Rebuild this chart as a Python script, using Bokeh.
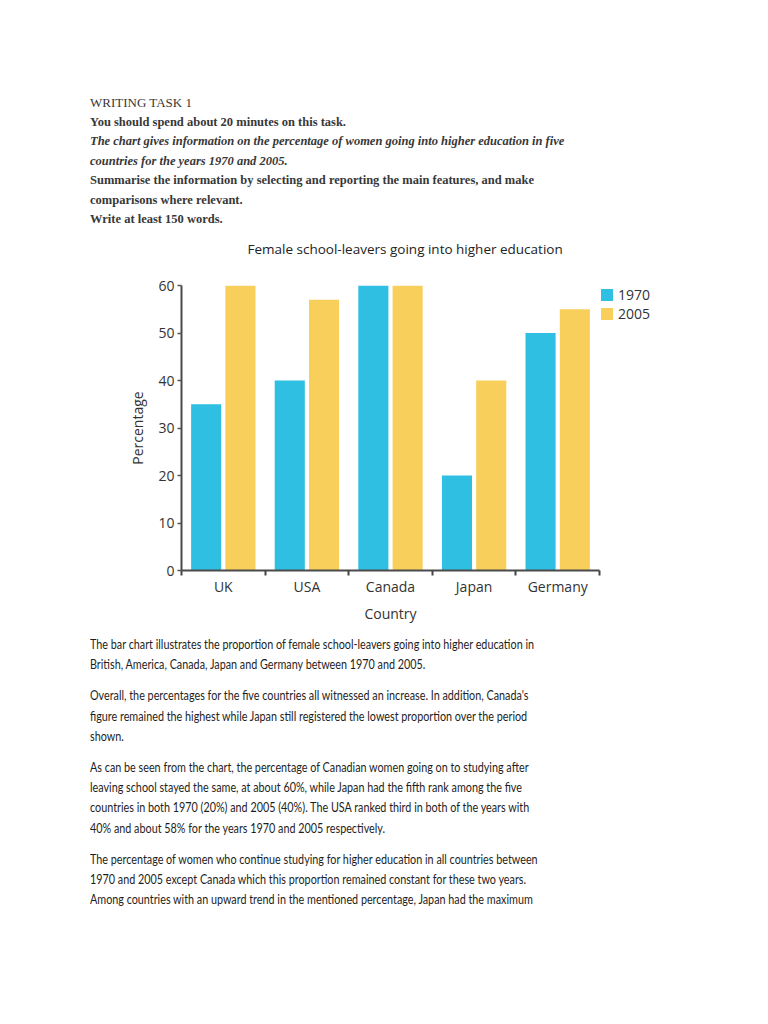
from bokeh.plotting import figure
from bokeh.models import (Range1d, FixedTicker, Legend, LegendItem, Div, ColumnDataSource, Title)
from bokeh.layouts import column
from bokeh.embed import file_html
from bokeh.resources import INLINE
import numpy as np

# ---- data ----
countries = ["UK", "USA", "Canada", "Japan", "Germany"]
values_1970 = [35, 40, 60, 20, 50]
values_2005 = [60, 57, 60, 40, 55]
years = ["1970", "2005"]
y_ticks = [0, 10, 20, 30, 40, 50, 60]

chart_title = "Female school-leavers going into higher education"
x_label = "Country"
y_label = "Percentage"

task_lines = [
    ("WRITING TASK 1", "normal"),
    ("You should spend about 20 minutes on this task.", "bold"),
    ("The chart gives information on the percentage of women going into higher education in five", "italic"),
    ("countries for the years 1970 and 2005.", "italic"),
    ("Summarise the information by selecting and reporting the main features, and make", "bold"),
    ("comparisons where relevant.", "bold"),
    ("Write at least 150 words.", "bold"),
]

essay_paragraphs = [
    ["The bar chart illustrates the proportion of female school-leavers going into higher education in",
     "British, America, Canada, Japan and Germany between 1970 and 2005."],
    ["Overall, the percentages for the five countries all witnessed an increase. In addition, Canada's",
     "figure remained the highest while Japan still registered the lowest proportion over the period",
     "shown."],
    ["As can be seen from the chart, the percentage of Canadian women going on to studying after",
     "leaving school stayed the same, at about 60%, while Japan had the fifth rank among the five",
     "countries in both 1970 (20%) and 2005 (40%). The USA ranked third in both of the years with",
     "40% and about 58% for the years 1970 and 2005 respectively."],
    ["The percentage of women who continue studying for higher education in all countries between",
     "1970 and 2005 except Canada which this proportion remained constant for these two years.",
     "Among countries with an upward trend in the mentioned percentage, Japan had the maximum"],
]

BLUE = "#2EBFE2"
YELLOW = "#F8CF5B"
FONT = "Open Sans"

# ---- top text ----
top_html = ['<div style="padding:88px 0 0 85px;font-family:\'Liberation Serif\',\'Times New Roman\',serif;color:#383838;">']
for txt, sty in task_lines:
    weight = "normal" if sty == "normal" else "bold"
    fstyle = "italic" if sty == "italic" else "normal"
    size = "13px" if sty == "normal" else "12.5px"
    top_html.append(
        f'<div style="height:19.5px;line-height:19.5px;white-space:nowrap;font-size:{size};'
        f'font-weight:{weight};font-style:{fstyle};">{txt}</div>')
top_html.append('</div>')
top_div = Div(text="".join(top_html), width=752, height=221)

# ---- chart ----
idx = np.arange(len(countries))
src = ColumnDataSource(dict(
    x1970=idx + 0.5 - 0.205, x2005=idx + 0.5 + 0.205,
    v1970=values_1970, v2005=values_2005))

p = figure(frame_width=418, frame_height=285,
           x_range=Range1d(0, len(countries)), y_range=Range1d(0, 60),
           output_backend="svg", toolbar_location=None,
           min_border_left=181, min_border_right=153,
           min_border_top=54, min_border_bottom=58,
           title=chart_title)

r1 = p.vbar(x="x1970", top="v1970", width=0.36, source=src, fill_color=BLUE, line_color=None)
r2 = p.vbar(x="x2005", top="v2005", width=0.36, source=src, fill_color=YELLOW, line_color=None)

p.title.align = "left"
p.title.offset = 66
p.title.text_font = FONT
p.title.text_font_size = "13.5px"
p.title.text_font_style = "normal"
p.title.text_color = "#222222"
p.title.standoff = 2

# empty spacer between the title and the plotting area
p.add_layout(Title(text=" ", text_font_size="1px", standoff=24), "above")

p.xgrid.visible = False
p.ygrid.visible = False
p.outline_line_color = None

xa = p.xaxis[0]
xa.ticker = FixedTicker(ticks=list(idx + 0.5), minor_ticks=list(range(len(countries) + 1)))
xa.major_label_overrides = {float(i + 0.5): c for i, c in enumerate(countries)}
xa.major_tick_out = 0
xa.major_tick_in = 0
xa.minor_tick_out = 5
xa.minor_tick_in = 0
xa.minor_tick_line_color = "#444444"
xa.minor_tick_line_width = 2
xa.major_label_standoff = 1
xa.axis_label = x_label
xa.axis_label_standoff = 5

ya = p.yaxis[0]
ya.ticker = FixedTicker(ticks=y_ticks)
ya.major_tick_out = 4
ya.major_tick_in = 0
ya.minor_tick_out = 0
ya.minor_tick_in = 0
ya.major_tick_line_color = "#555555"
ya.major_tick_line_width = 1.5
ya.major_label_standoff = 3
ya.axis_label = y_label
ya.axis_label_standoff = 8

for ax in (xa, ya):
    ax.axis_line_color = "#4a4a4a"
    ax.axis_line_width = 2
    ax.major_label_text_font = FONT
    ax.major_label_text_font_size = "14px"
    ax.major_label_text_color = "#333333"
    ax.axis_label_text_font = FONT
    ax.axis_label_text_font_size = "14px"
    ax.axis_label_text_font_style = "normal"
    ax.axis_label_text_color = "#333333"

legend = Legend(items=[LegendItem(label=years[0], renderers=[r1]),
                       LegendItem(label=years[1], renderers=[r2])],
                location="top_left", margin=0, padding=0,
                border_line_color=None, background_fill_alpha=0,
                glyph_width=15, glyph_height=15, label_standoff=4,
                label_text_font=FONT, label_text_font_size="14px",
                label_text_color="#333333", spacing=0)
p.add_layout(legend, "right")

# ---- bottom text ----
bot_html = ['<div style="padding:1px 0 0 85px;font-family:Lato,\'Liberation Sans\',sans-serif;'
            'font-size:13px;color:#1e1e1e;">']
for para in essay_paragraphs:
    bot_html.append('<div style="margin-bottom:10.7px;">')
    for line in para:
        bot_html.append('<div style="height:20.3px;line-height:20.3px;white-space:nowrap;'
                        f'transform:scaleX(0.83);transform-origin:0 50%;">{line}</div>')
    bot_html.append('</div>')
bot_html.append('</div>')
bot_div = Div(text="".join(bot_html), width=752, height=380)

layout = column(top_div, p, bot_div, spacing=0)
open("out.html", "w").write(file_html(layout, INLINE))
